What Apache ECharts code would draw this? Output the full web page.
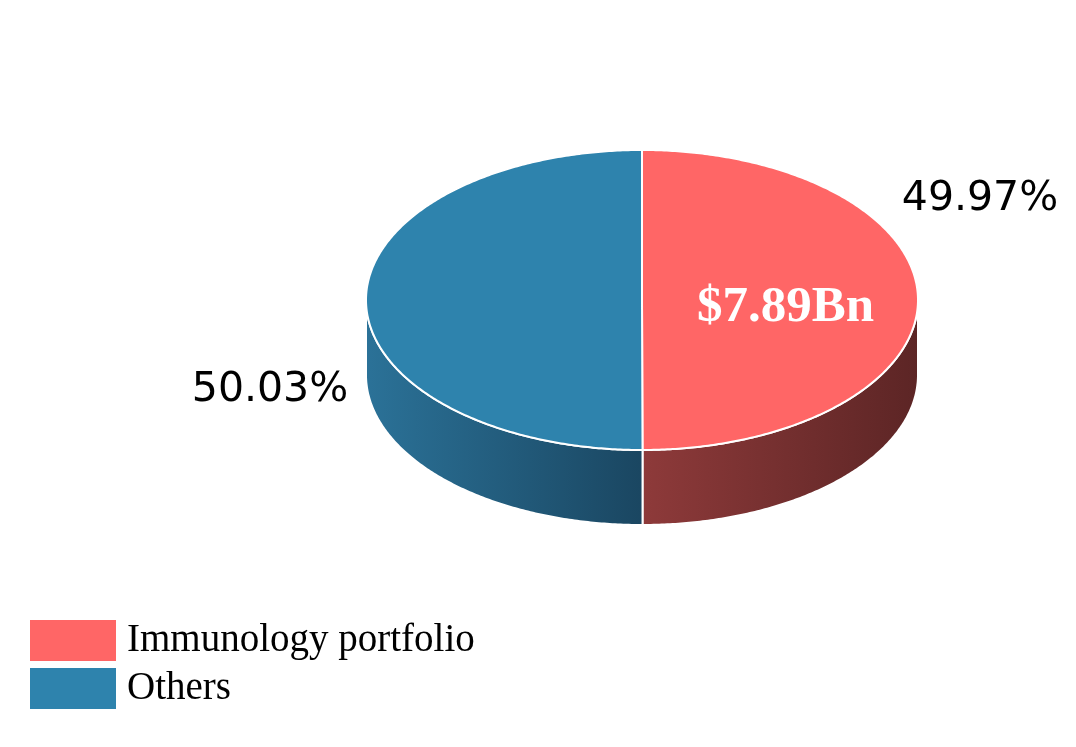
<!DOCTYPE html>
<html>
<head>
<meta charset="utf-8">
<script src="https://cdn.jsdelivr.net/npm/echarts@6/dist/echarts.min.js"></script>
<style>
  html, body { margin: 0; padding: 0; background: #fff; }
  #chart { width: 1076px; height: 747px; }
</style>
</head>
<body>
<div id="chart"></div>
<script>
// slice data
const names = ['Immunology portfolio', 'Others'];
const shares = [49.97, 50.03];
const shareLabels = ['49.97%', '50.03%'];
const innerLabels = ['$7.89Bn', ''];

// look of the 3d pie
const topColors = ['#FF6666', '#2E83AD'];
const wallColors = [['#8E3A3A', '#5C2525'], ['#2B7298', '#1A4661']];
const labelShift = [[62, -101], [-96, 90]];
const pie = { cx: 642, cy: 300, rx: 276, ry: 150, depth: 75 };

const total = shares.reduce((a, b) => a + b, 0);

function pt(t, dy) {
  // t measured clockwise from 12 o'clock
  return [pie.cx + pie.rx * Math.sin(t), pie.cy - pie.ry * Math.cos(t) + (dy || 0)];
}

function arc(a, b, dy) {
  const pts = [];
  const n = Math.max(2, Math.ceil((b - a) / 0.01));
  for (let k = 0; k <= n; k++) pts.push(pt(a + (b - a) * k / n, dy));
  return pts;
}

function sliceRenderer(i) {
  return function (params, api) {
    const before = shares.slice(0, i).reduce((a, b) => a + b, 0);
    const a = before / total * Math.PI * 2;
    const b = (before + api.value(0)) / total * Math.PI * 2;
    const children = [];

    // front wall (only the part facing the viewer)
    const t1 = Math.max(a, Math.PI / 2), t2 = Math.min(b, Math.PI * 1.5);
    if (t2 > t1) {
      const wall = arc(t1, t2, 0).concat(arc(t1, t2, pie.depth).reverse());
      children.push({
        type: 'polygon',
        shape: { points: wall },
        style: {
          fill: {
            type: 'linear', x: 0, y: 0, x2: 1, y2: 0,
            colorStops: [{ offset: 0, color: wallColors[i][0] }, { offset: 1, color: wallColors[i][1] }]
          },
          stroke: '#fff', lineWidth: 2
        }
      });
    }

    // top face
    const top = [[pie.cx, pie.cy]].concat(arc(a, b, 0));
    children.push({
      type: 'polygon',
      shape: { points: top },
      style: { fill: topColors[i], stroke: '#fff', lineWidth: 2 }
    });

    const mid = (a + b) / 2;
    const edge = pt(mid, 0);
    children.push({
      type: 'text',
      x: edge[0] + labelShift[i][0],
      y: edge[1] + labelShift[i][1],
      style: {
        text: shareLabels[i],
        fill: '#000',
        font: '41px "DejaVu Sans"',
        align: 'center',
        verticalAlign: 'middle'
      }
    });

    if (innerLabels[i]) {
      children.push({
        type: 'text',
        x: pie.cx + pie.rx * 0.52 * Math.sin(mid),
        y: pie.cy - pie.ry * 0.52 * Math.cos(mid) + 8,
        style: {
          text: innerLabels[i],
          fill: '#fff',
          font: 'bold 51px "Liberation Serif"',
          align: 'center',
          verticalAlign: 'middle'
        }
      });
    }
    return { type: 'group', children: children };
  };
}

const chart = echarts.init(document.getElementById('chart'));
chart.setOption({
  backgroundColor: '#fff',
  animation: false,
  legend: {
    data: names,
    orient: 'vertical',
    left: 30,
    top: 620,
    padding: 0,
    icon: 'rect',
    itemWidth: 86,
    itemHeight: 41,
    itemGap: 7,
    textStyle: {
      fontFamily: 'Liberation Serif',
      fontSize: 39,
      color: '#000',
      padding: [0, 0, 0, 6]
    }
  },
  series: names.map((name, i) => ({
    type: 'custom',
    name: name,
    coordinateSystem: 'none',
    itemStyle: { color: topColors[i] },
    renderItem: sliceRenderer(i),
    data: [[shares[i]]]
  }))
});
</script>
</body>
</html>
